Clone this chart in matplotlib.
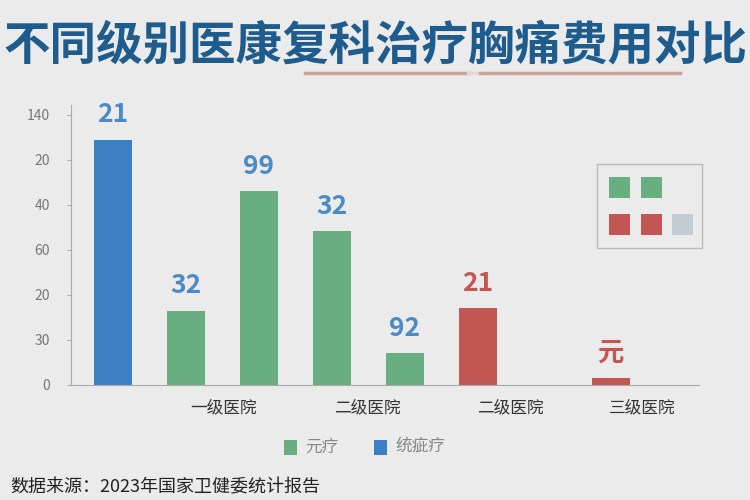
import matplotlib.pyplot as plt
from matplotlib.patches import Rectangle
from matplotlib.lines import Line2D

plt.rcParams['font.family'] = ['Noto Sans CJK SC', 'DejaVu Sans']

# 数据
bar_pos = [0, 1, 2, 3, 4, 5, 6.82]
bar_vals = [109, 33, 86, 68.5, 14, 34, 3]
bar_series = ['blue', 'green', 'green', 'green', 'green', 'red', 'red']
bar_labels = ['21', '32', '99', '32', '92', '21', '元']
ytick_vals = [0, 20, 40, 60, 80, 100, 120]
ytick_labels = ['0', '30', '20', '60', '40', '20', '140']
xtick_pos = [1.51, 3.49, 5.45, 7.25]
xtick_labels = ['一级医院', '二级医院', '二级医院', '三级医院']
legend_names = ['元疗', '统疵疗']

colores = {'blue': '#3a80c3', 'green': '#68ae80', 'red': '#c25652'}
color_etiqueta = {'blue': '#4b8ac5', 'green': '#4b8ac5', 'red': '#c25652'}
fondo = '#ebebeb'

fig = plt.figure(figsize=(7.5, 5), dpi=100, facecolor=fondo)
ax = fig.add_axes([71/750, 115/500, 628/750, 280/500], facecolor=fondo)

for x, v, s, lab in zip(bar_pos, bar_vals, bar_series, bar_labels):
    ax.bar(x, v, width=0.52, color=colores[s])
    ax.text(x, v + 5, lab, ha='center', va='bottom', fontsize=19,
            fontweight='semibold', color=color_etiqueta[s])

ax.set_xlim(-0.575, 8.03)
ax.set_ylim(0, 124.4)
ax.set_yticks(ytick_vals)
ax.set_yticklabels(ytick_labels, fontsize=10, color='#777777')
ax.set_xticks(xtick_pos)
ax.set_xticklabels(xtick_labels, fontsize=12, color='#333333')
ax.tick_params(axis='x', length=0, pad=10)
ax.tick_params(axis='y', length=3, color='#aaaaaa', pad=12)
for lado in ['top', 'right']:
    ax.spines[lado].set_visible(False)
for lado in ['left', 'bottom']:
    ax.spines[lado].set_color('#aaaaaa')

# titulo
fig.text(0.5, 0.91, '不同级别医康复科治疗胸痛费用对比', ha='center', va='center',
         fontsize=33.5, fontweight='bold', color='#1f5c8e')
fig.add_artist(Line2D([305/750, 468/750], [1 - 73/500, 1 - 73/500],
                      color='#c9a39c', lw=2.5))
fig.add_artist(Line2D([468/750, 480/750], [1 - 73/500, 1 - 73/500],
                      color='#e8d6d2', lw=2.5))
fig.add_artist(Line2D([480/750, 680/750], [1 - 73/500, 1 - 73/500],
                      color='#c9a39c', lw=2.5))

# cuadro de leyenda arriba a la derecha
fig.add_artist(Rectangle((597/750, 1 - 248/500), 105/750, 84/500,
                         facecolor='none', edgecolor='#bbbbbb', lw=1))
cuadros = [(609, 177, colores['green']), (641, 177, colores['green']),
           (609, 214, colores['red']), (641, 214, colores['red']),
           (672, 214, '#c3ccd2')]
for cx, cy, c in cuadros:
    fig.add_artist(Rectangle((cx/750, 1 - (cy + 21)/500), 21/750, 21/500,
                             facecolor=c, edgecolor='none'))

# leyenda inferior
fig.add_artist(Rectangle((284/750, 1 - 455/500), 13/750, 15/500,
                         facecolor=colores['green'], edgecolor='none'))
fig.text(305/750, 1 - 447/500, legend_names[0], fontsize=12, color='#888888', va='center')
fig.add_artist(Rectangle((374/750, 1 - 455/500), 13/750, 15/500,
                         facecolor=colores['blue'], edgecolor='none'))
fig.text(395/750, 1 - 447/500, legend_names[1], fontsize=12, color='#888888', va='center')

fig.text(10/750, 4/500, '数据来源：2023年国家卫健委统计报告', fontsize=13,
         color='#222222', va='bottom')

plt.savefig('out.png', dpi=100, facecolor=fondo)
